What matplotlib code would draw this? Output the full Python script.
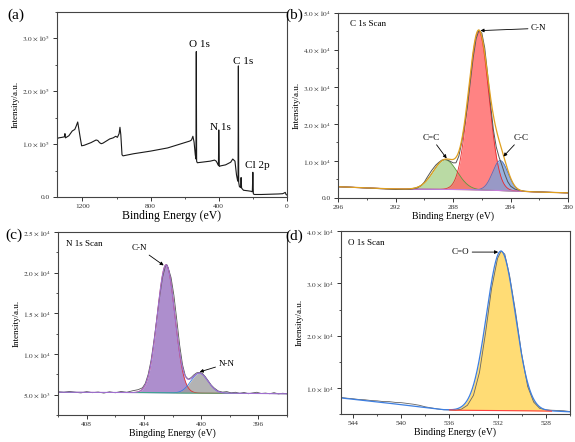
import numpy as np
import matplotlib
matplotlib.use("Agg")
import matplotlib.pyplot as plt
from matplotlib.ticker import FuncFormatter, MultipleLocator

plt.rcParams.update({
    "font.family": "Liberation Serif",
    "mathtext.fontset": "stix",
    "axes.linewidth": 0.8,
    "axes.edgecolor": "#444444",
})

# ── (a) survey spectrum ─────────────────────────────────────────────────────
survey_E = [1350, 1340, 1320, 1306, 1303, 1300, 1280, 1260, 1245, 1236, 1228, 1222,
            1212, 1205, 1190, 1150, 1120, 1110, 1100, 1090, 1080, 1060, 1040, 1020,
            1005, 995, 985, 980, 975, 968, 962, 900, 800, 700, 600, 570, 560, 552,
            545, 538, 534, 532, 530, 526, 500, 450, 425, 415, 405, 402, 400, 397,
            390, 360, 330, 318, 305, 296, 290, 287, 285, 283, 279, 272, 269, 266,
            255, 230, 210, 203, 200, 197, 190, 150, 100, 50, 25, 15, 10, 5, 0]
survey_I = [1.10, 1.12, 1.13, 1.14, 1.20, 1.12, 1.16, 1.25, 1.28, 1.35, 1.42, 1.30,
            1.10, 0.97, 0.98, 1.03, 1.08, 1.07, 1.03, 1.01, 1.02, 1.06, 1.10, 1.12,
            1.15, 1.13, 1.20, 1.32, 1.18, 0.80, 0.78, 0.82, 0.87, 0.93, 1.03, 1.06,
            1.08, 1.15, 1.04, 0.80, 0.72, 2.75, 0.68, 0.65, 0.66, 0.68, 0.70, 0.68,
            0.62, 0.60, 1.27, 0.58, 0.59, 0.61, 0.66, 0.72, 0.68, 0.42, 0.32, 0.30,
            2.48, 0.28, 0.20, 0.18, 0.37, 0.17, 0.13, 0.12, 0.11, 0.10, 0.47, 0.06,
            0.05, 0.05, 0.055, 0.06, 0.065, 0.08, 0.09, 0.05, 0.04]
survey_peaks = ["O 1s", "C 1s", "N 1s", "Cl 2p"]
survey_label_E = [516, 260, 393, 172]
survey_label_I = [2.88, 2.56, 1.32, 0.60]

# ── (b) C 1s ────────────────────────────────────────────────────────────────
c1s_E = [296, 294, 292, 291, 290.5, 290.2, 290.0, 289.8, 289.5, 289.2, 289.0, 288.8,
         288.6, 288.4, 288.2, 288.0, 287.8, 287.6, 287.4, 287.2, 287.0, 286.8, 286.6,
         286.4, 286.2, 286.0, 285.8, 285.6, 285.4, 285.2, 285.0, 284.8, 284.6, 284.4,
         284.2, 284.0, 283.7, 283.3, 283.0, 282.0, 281.0, 280.0]
c1s_I = [3.05, 2.70, 2.30, 2.35, 2.70, 3.40, 4.30, 5.60, 7.40, 8.90, 9.60, 10.2,
         10.4, 10.3, 9.9, 9.5, 9.5, 11.3, 15.0, 19.5, 24.8, 31.5, 38.0, 43.0, 45.3,
         44.5, 40.5, 33.5, 25.5, 18.5, 13.8, 11.0, 8.8, 6.4, 4.4, 3.2, 2.4, 2.0, 1.8,
         1.65, 1.50, 1.40]
c1s_bg_E = [296, 293, 291, 289, 287, 285, 283.5, 282, 280]
c1s_bg_I = [3.05, 2.55, 2.40, 2.35, 2.25, 2.05, 1.85, 1.60, 1.40]
c1s_names = ["C=C", "C-N", "C-C"]
c1s_center = [288.55, 286.22, 284.72]
c1s_height = [8.0, 42.9, 8.1]
c1s_fwhm = [1.95, 1.65, 1.25]

# ── (c) N 1s ────────────────────────────────────────────────────────────────
n1s_E = [410, 409.6, 409.2, 408.8, 408.4, 408.0, 407.6, 407.2, 406.8, 406.4, 406.0,
         405.6, 405.2, 404.8, 404.4, 404.1, 403.9, 403.7, 403.5, 403.3, 403.1, 402.9,
         402.7, 402.5, 402.4, 402.3, 402.1, 401.9, 401.7, 401.5, 401.3, 401.1, 400.9,
         400.7, 400.5, 400.3, 400.1, 399.9, 399.7, 399.5, 399.3, 399.1, 398.8, 398.5,
         398.2, 397.9, 397.6, 397.3, 397.0, 396.7, 396.4, 396.1, 395.8, 395.5, 395.2,
         394.9, 394.6, 394.3, 394.0]
n1s_I = [5.35, 5.28, 5.40, 5.30, 5.22, 5.38, 5.25, 5.33, 5.20, 5.36, 5.24, 5.40,
         5.30, 5.48, 5.62, 5.85, 6.40, 7.50, 9.20, 11.6, 14.3, 17.0, 19.4, 20.8, 21.0,
         20.6, 19.4, 17.2, 14.2, 11.1, 8.70, 7.30, 6.90, 7.10, 7.45, 7.70, 7.75, 7.60,
         7.20, 6.70, 6.20, 5.85, 5.45, 5.32, 5.38, 5.22, 5.30, 5.15, 5.28, 5.12, 5.22,
         5.30, 5.15, 5.20, 5.12, 5.25, 5.10, 5.18, 5.12]
n1s_bg_E = [410, 404, 401, 398, 394]
n1s_bg_I = [5.30, 5.25, 5.20, 5.18, 5.12]
n1s_names = ["C-N", "N-N"]
n1s_center = [402.45, 400.12]
n1s_height = [15.75, 2.45]
n1s_fwhm = [1.45, 1.40]

# ── (d) O 1s ────────────────────────────────────────────────────────────────
o1s_E = [545, 544.5, 544, 543.5, 543, 542.5, 542, 541.5, 541, 540.5, 540, 539.5,
         539, 538.5, 538, 537.5, 537, 536.5, 536, 535.5, 535, 534.5, 534, 533.5, 533,
         532.5, 532, 531.7, 531.4, 531, 530.5, 530, 529.5, 529, 528.5, 528, 527.5,
         527, 526.5, 526]
o1s_I = [8.20, 8.05, 7.95, 7.80, 7.75, 7.60, 7.55, 7.40, 7.40, 7.25, 7.20, 7.05,
         6.90, 6.70, 6.40, 6.20, 6.00, 5.85, 5.80, 5.75, 5.95, 6.70, 8.60, 13.0, 20.5,
         29.0, 34.8, 36.2, 35.6, 31.5, 24.5, 16.5, 10.3, 7.30, 6.10, 5.85, 5.75, 5.70,
         5.65, 5.50]
o1s_bg_E = [545, 542, 539, 536.5, 535.5, 532, 528.5, 527, 526]
o1s_bg_I = [8.10, 7.35, 6.55, 5.85, 5.75, 5.70, 5.62, 5.55, 5.45]
o1s_names = ["C=O"]
o1s_center = [531.72]
o1s_height = [30.5]
o1s_fwhm = [2.8]


def gauss(x, c, h, w):
    return h * np.exp(-4 * np.log(2) * ((x - c) / w) ** 2)


def sci_fmt(v, _):
    if v == 0:
        return "0.0"
    e = int(np.floor(np.log10(abs(v))))
    return r"$%.1f\times10^{%d}$" % (v / 10 ** e, e)


def style(ax, xlim, ylim, xmaj, ymaj, xlabel, xlsize=7):
    ax.set_xlim(*xlim)
    ax.set_ylim(*ylim)
    ax.xaxis.set_major_locator(MultipleLocator(xmaj))
    ax.xaxis.set_minor_locator(MultipleLocator(xmaj / 2))
    ax.yaxis.set_major_locator(MultipleLocator(ymaj))
    ax.yaxis.set_minor_locator(MultipleLocator(ymaj / 2))
    ax.yaxis.set_major_formatter(FuncFormatter(sci_fmt))
    ax.tick_params(which="major", length=3, width=0.7, labelsize=5.3, pad=2,
                   colors="#333333")
    ax.tick_params(which="minor", length=1.6, width=0.6, colors="#333333")
    ax.set_xlabel(xlabel, fontsize=xlsize, labelpad=1)
    ax.set_ylabel("Intensity/a.u.", fontsize=6.5, labelpad=2)


fig = plt.figure(figsize=(5.75, 4.42), dpi=100, facecolor="white")
axa = fig.add_axes([0.099, 0.554, 0.400, 0.419])
axb = fig.add_axes([0.588, 0.552, 0.400, 0.419])
axc = fig.add_axes([0.101, 0.061, 0.398, 0.414])
axd = fig.add_axes([0.593, 0.063, 0.398, 0.414])

arrow = dict(arrowstyle="-|>", color="black", lw=0.6, mutation_scale=5,
             shrinkA=0, shrinkB=0)

# (a)
axa.plot(survey_E, np.array(survey_I) * 1e5, color="#1a1a1a", lw=0.8)
for name, ex, iy in zip(survey_peaks, survey_label_E, survey_label_I):
    axa.text(ex, iy * 1e5, name, fontsize=8, ha="center", va="center")
style(axa, (1350, 0), (0, 3.5e5), 400, 1e5, "Binding Energy (eV)", 8.5)

# (b)
xb = np.linspace(296, 280, 800)
bgb = np.interp(xb, c1s_bg_E[::-1], c1s_bg_I[::-1]) * 1e3
comps = [gauss(xb, c, h, w) * 1e3 for c, h, w in zip(c1s_center, c1s_height, c1s_fwhm)]
fills = [("#a9d18e", "#5b9a3c"), ("#ff6464", "#e8282a"), ("#7f9fd8", "#4a72c4")]
for comp, (fc, ec) in zip(comps, fills):
    axb.fill_between(xb, bgb, bgb + comp, color=fc, alpha=0.8, lw=0)
    axb.plot(xb, bgb + comp, color=ec, lw=0.6)
axb.plot(c1s_bg_E, np.array(c1s_bg_I) * 1e3, color="#c77ddb", lw=0.8)
axb.plot(c1s_E, np.array(c1s_I) * 1e3, color="#555555", lw=0.7)
axb.plot(xb, bgb + sum(comps), color="#e0a020", lw=0.9)
axb.text(0.052, 0.94, "C 1s Scan", transform=axb.transAxes, fontsize=6.5,
         va="center")
axb.annotate("C-N", xy=(286.1, 45.2e3), xytext=(282.6, 45.8e3), fontsize=6.5,
             va="center", arrowprops=arrow)
axb.annotate("C=C", xy=(288.45, 10.7e3), xytext=(289.5, 16.2e3), fontsize=6.5,
             ha="center", va="center", arrowprops=arrow)
axb.annotate("C-C", xy=(284.5, 11.2e3), xytext=(283.3, 16.2e3), fontsize=6.5,
             ha="center", va="center", arrowprops=arrow)
style(axb, (296, 280), (0, 5e4), 4, 1e4, "Binding Energy (eV)", 7)

# (c)
xc = np.linspace(410, 394, 800)
bgc = np.interp(xc, n1s_bg_E[::-1], n1s_bg_I[::-1]) * 1e3
compc = [gauss(xc, c, h, w) * 1e3 for c, h, w in zip(n1s_center, n1s_height, n1s_fwhm)]
axc.fill_between(xc, bgc, bgc + compc[0], color="#9268bd", alpha=0.75, lw=0)
axc.fill_between(xc, bgc, bgc + compc[1], color="#9a9a9a", alpha=0.75, lw=0)
axc.plot(xc, bgc + compc[0], color="#e03030", lw=0.6)
axc.plot(xc, bgc + compc[1], color="#3a7be0", lw=0.6)
axc.plot(n1s_bg_E, np.array(n1s_bg_I) * 1e3, color="#3cb371", lw=0.6)
axc.plot(n1s_E, np.array(n1s_I) * 1e3, color="#555555", lw=0.6)
axc.plot(xc, bgc + sum(compc), color="#a070d0", lw=0.8)
axc.text(0.035, 0.934, "N 1s Scan", transform=axc.transAxes, fontsize=6.5,
         va="center")
axc.annotate("C-N", xy=(402.62, 20.9e3), xytext=(404.3, 23.0e3), fontsize=6.5,
             ha="center", va="center", arrowprops=arrow)
axc.annotate("N-N", xy=(400.1, 7.8e3), xytext=(398.8, 8.8e3), fontsize=6.5,
             ha="left", va="center", arrowprops=arrow)
style(axc, (410, 394), (2.5e3, 2.5e4), 4, 5e3, "Bingding Energy (eV)", 7)

# (d)
xd = np.linspace(545, 526, 800)
bgd = np.interp(xd, o1s_bg_E[::-1], o1s_bg_I[::-1]) * 1e3
compd = gauss(xd, o1s_center[0], o1s_height[0], o1s_fwhm[0]) * 1e3
mask = (xd < 536) & (xd > 527.5)
axd.fill_between(xd, bgd, bgd + compd, where=mask,
                 color="#ffd966", alpha=0.9, lw=0)
axd.plot(o1s_E, np.array(o1s_I) * 1e3, color="#666666", lw=0.6)
axd.plot(xd, bgd + compd, color="#3d7ee0", lw=0.9)
axd.plot(xd[mask], bgd[mask], color="#ff4040", lw=0.8)
axd.text(0.032, 0.936, "O 1s Scan", transform=axd.transAxes, fontsize=6.5,
         va="center")
axd.annotate("C=O", xy=(531.95, 36.0e3), xytext=(535.8, 36.0e3), fontsize=6.5,
             va="center", arrowprops=arrow)
style(axd, (545, 526), (5e3, 4e4), 4, 1e4, "Binding Energy (eV)", 7)

# panel letters
for lbl, (px, py) in zip(["(a)", "(b)", "(c)", "(d)"],
                         [(16, 15), (294, 15), (14, 235), (294, 236)]):
    fig.text(px / 575, 1 - py / 442, lbl, fontsize=11, ha="center", va="center")

fig.savefig("out.png", dpi=100, facecolor="white")
